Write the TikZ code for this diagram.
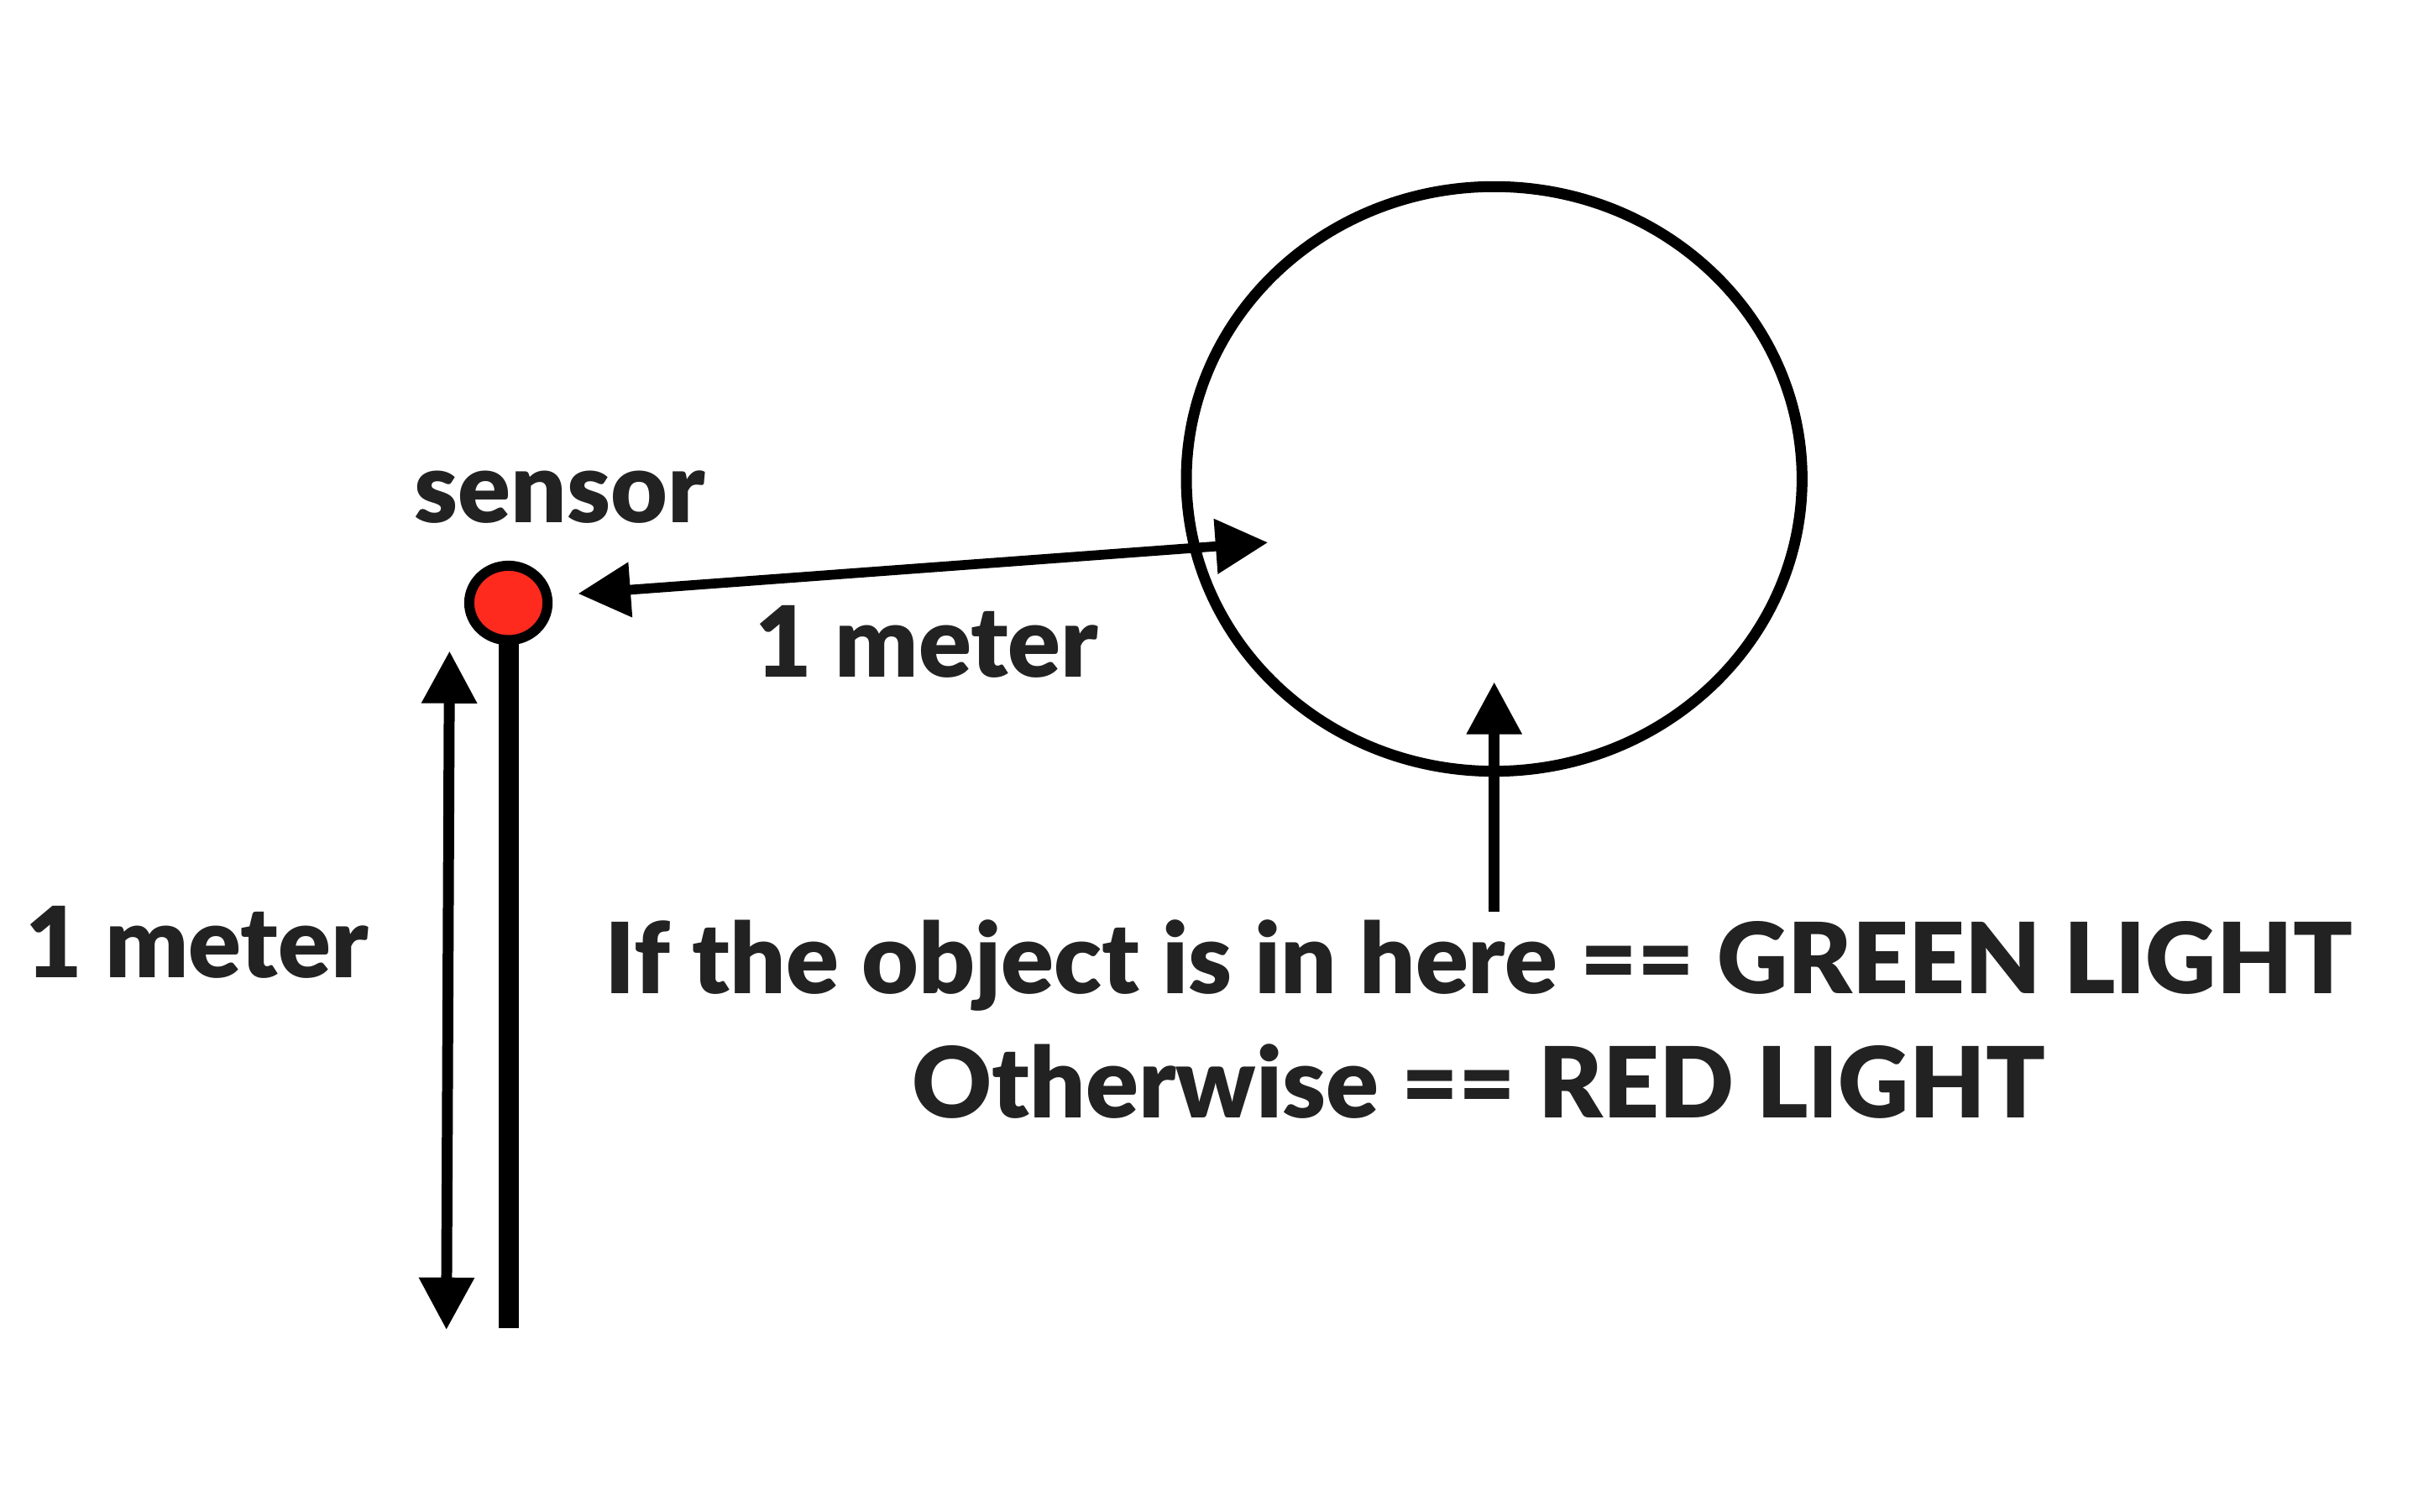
\documentclass[tikz,border=0pt]{standalone}
\usepackage{fontspec}
\setmainfont{Lato}[BoldFont={Lato Black}]
\usetikzlibrary{shapes,arrows.meta,calc}
\definecolor{sensorred}{RGB}{254,42,30}
\definecolor{inkgray}{RGB}{34,34,34}
\tikzset{
  captiontext/.style={text=inkgray,font=\bfseries\fontsize{18}{21}\selectfont,inner sep=0pt,anchor=base},
  dimarrow/.style={draw=black,line cap=butt,{Triangle[length=9.6pt,width=9.7pt]}-{Triangle[length=9.6pt,width=9.7pt]}},
  uparrow/.style={draw=black,line cap=butt,-{Triangle[length=9.6pt,width=9.7pt]}}
}
\begin{document}
\begin{tikzpicture}[x=0.01cm, y=0.01cm, yscale=-1, inner sep=0pt, outer sep=0pt]
  \useasboundingbox (0,0) rectangle (1560,975);
  \node[ellipse,draw=black,line width=2pt,minimum width=3.97cm,minimum height=3.77cm]
    (zone) at (964,309) {};
  \node[ellipse,draw=black,fill=sensorred,line width=1.85pt,minimum width=0.505cm,
    minimum height=0.48cm] (sensor) at (328,389) {};
  \coordinate (polefoot) at (328,857);
  \path[draw=black,line cap=butt,line width=3.7pt] (sensor.south) -- (polefoot);
  \coordinate (near) at (373,383);
  \coordinate (reach) at (818,350);
  \path[dimarrow,line width=1.8pt] (near) -- (reach);
  \coordinate (dimtop) at (290,420);
  \coordinate (dimbot) at (288,858);
  \path[dimarrow,line width=2pt] (dimtop) -- (dimbot);
  \coordinate (pointer) at (964,588);
  \coordinate (target) at (964,440);
  \path[uparrow,line width=2pt] (pointer) -- (target);
  \node[captiontext] (sensortext) at (361,337) {sensor};
  \node[captiontext] (reachtext) at (598,437) {1 meter};
  \node[captiontext] (heighttext) at (127,631) {1 meter};
  \node[captiontext] (greentext) at (954,641) {If the object is in here == GREEN LIGHT};
  \node[captiontext] (redtext) at (954,721) {Otherwise == RED LIGHT};
\end{tikzpicture}
\end{document}
